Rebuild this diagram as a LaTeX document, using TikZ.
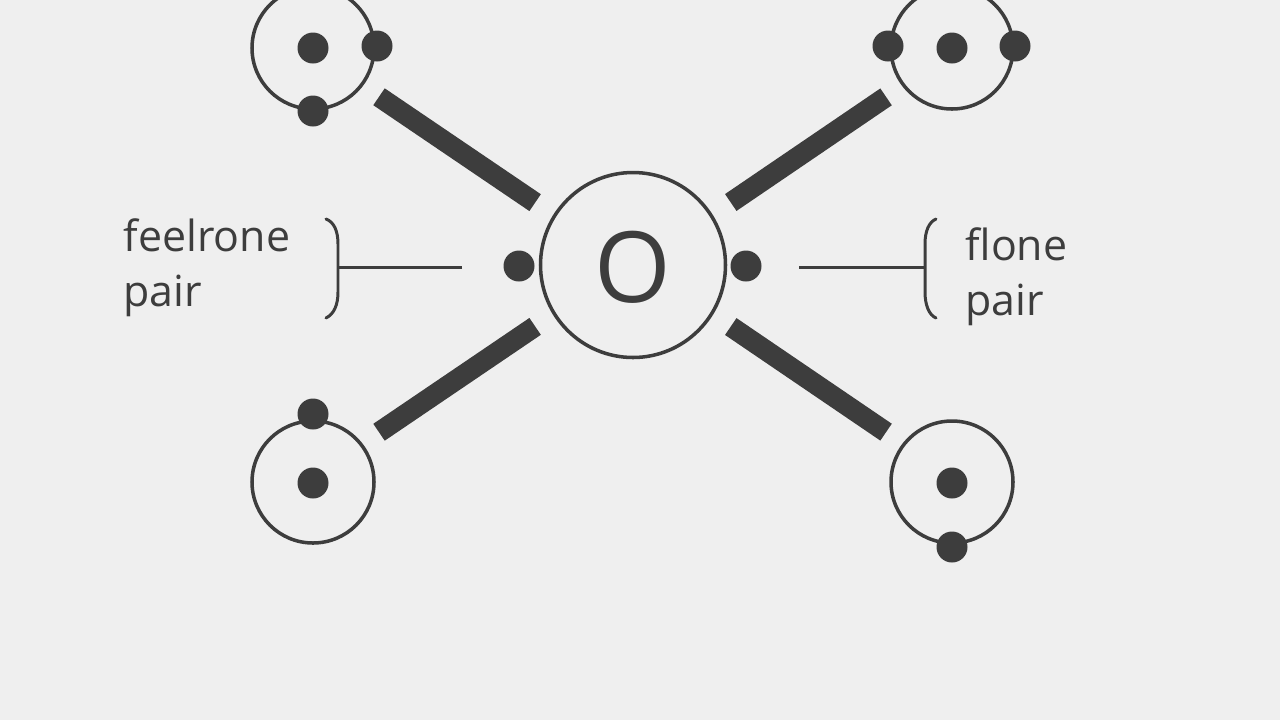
\documentclass[tikz,border=0pt]{standalone}
\usepackage{fontspec}
\setmainfont{Open Sans}
\definecolor{ink}{HTML}{3D3D3D}
\definecolor{paper}{HTML}{EFEFEF}
\tikzset{>=latex}
\tikzstyle{ring} = [draw=ink, line width=1pt, circle, inner sep=0pt]
\tikzstyle{hydrogen} = [ring, minimum size=12.2mm]
\tikzstyle{oxygen} = [ring, minimum size=18.5mm, text=ink, text height=21.8pt, text depth=0.3pt, font=\fontsize{28}{30}\selectfont]
\tikzstyle{electron} = [fill=ink, circle, inner sep=0pt, minimum size=3.1mm]
\tikzstyle{bond} = [draw=ink, line width=5.8pt, shorten <=1.7mm, shorten >=2.4mm]
\tikzstyle{leader} = [draw=ink, line width=0.85pt]
\tikzstyle{caption} = [text=ink, align=left, inner sep=0pt, font=\fontsize{12.2}{15.6}\selectfont]

\begin{document}
\begin{tikzpicture}[x=0.1mm, y=-0.1mm]

\fill[paper] (0,0) rectangle (1280,720);
\useasboundingbox (0,0) rectangle (1280,720);
\clip (0,0) rectangle (1280,720);

  \node[oxygen] (O) at (633,265) {O};

  \node[hydrogen] (H1) at (313,48) {};
  \node[hydrogen] (H2) at (952,48) {};
  \node[hydrogen] (H3) at (313,482) {};
  \node[hydrogen] (H4) at (952,482) {};

  % bonds sit a little nearer the middle line than the centres do
  \draw[bond, transform canvas={yshift=-0.4mm}] (H1) -- (O);
  \draw[bond, transform canvas={yshift=-0.4mm}] (H2) -- (O);
  \draw[bond, transform canvas={yshift=0.5mm}] (H3) -- (O);
  \draw[bond, transform canvas={yshift=0.5mm}] (H4) -- (O);

  \foreach \name/\x/\y in {a/313/48, b/377/46, c/313/111,
                           d/888/46, e/952/48, f/1015/46,
                           g/313/414, h/313/483,
                           i/952/483, j/952/547,
                           k/519/266, l/746/266}
    \node[electron] (e\name) at (\x,\y) {};

  \node[caption, anchor=west] (leftlabel) at (123,268) {feelrone\\pair};
  \node[caption, anchor=west] (rightlabel) at (965,277) {flone\\pair};

  \coordinate (lefttip) at (462,267);
  \coordinate (leftbrace) at (338,267);
  \coordinate (righttip) at (799,267);
  \coordinate (rightbrace) at (925,267);

  \draw[leader] (lefttip) -- (leftbrace);
  \draw[leader] (righttip) -- (rightbrace);

  \draw[leader, line cap=round] (326,219) .. controls (334,222) and (338,231) .. (338,244)
    -- (338,292) .. controls (338,305) and (334,314) .. (326,318);
  \draw[leader, line cap=round] (936,219) .. controls (929,222) and (925,231) .. (925,244)
    -- (925,292) .. controls (925,305) and (929,315) .. (936,318);

\end{tikzpicture}
\end{document}
